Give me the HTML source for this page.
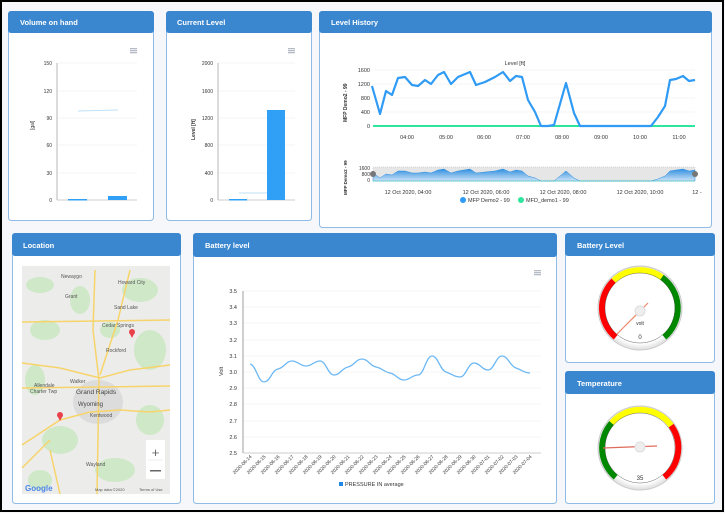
<!DOCTYPE html><html><head><meta charset="utf-8"><style>
body{margin:0;background:#fff;font-family:"Liberation Sans",sans-serif}
svg text{font-family:"Liberation Sans",sans-serif}
</style></head><body>
<svg width="725" height="513" viewBox="0 0 725 513" xmlns="http://www.w3.org/2000/svg">
<rect x="0" y="0" width="725" height="513" fill="#f5f7fb"/>
<rect x="1" y="1" width="722" height="510" fill="none" stroke="#000" stroke-width="2"/>
<defs><linearGradient id="nav" x1="0" y1="0" x2="0" y2="1"><stop offset="0" stop-color="#2f8fe0"/><stop offset="1" stop-color="#cfe4f7"/></linearGradient>
<radialGradient id="face" cx="0.5" cy="0.5" r="0.5"><stop offset="0.85" stop-color="#fff"/><stop offset="1" stop-color="#ddd"/></radialGradient></defs>
<g stroke="#8fbbe6" stroke-width="1" fill="#fff">
<rect x="8.5" y="11.5" width="145" height="209" rx="3"/>
<rect x="166.5" y="11.5" width="145" height="209" rx="3"/>
<rect x="319.5" y="11.5" width="392" height="216" rx="3"/>
<rect x="12.5" y="233.5" width="168" height="270" rx="3"/>
<rect x="193.5" y="233.5" width="363" height="270" rx="3"/>
<rect x="565.5" y="233.5" width="149" height="129" rx="3"/>
<rect x="565.5" y="371.5" width="149" height="132" rx="3"/>
</g>
<g fill="#3a87d0">
<rect x="8" y="11" width="146" height="22" rx="3"/>
<rect x="166" y="11" width="146" height="22" rx="3"/>
<rect x="319" y="11" width="393" height="22" rx="3"/>
<rect x="12" y="233" width="169" height="23" rx="3"/>
<rect x="193" y="233" width="364" height="24" rx="3"/>
<rect x="565" y="233" width="150" height="23" rx="3"/>
<rect x="565" y="371" width="150" height="23" rx="3"/>
</g>
<g fill="#fff" font-size="7.5" font-weight="bold">
<text x="20" y="25">Volume on hand</text>
<text x="177" y="25">Current Level</text>
<text x="331" y="25">Level History</text>
<text x="23" y="248">Location</text>
<text x="205" y="248">Battery level</text>
<text x="577" y="248">Battery Level</text>
<text x="577" y="386">Temperature</text>
</g>
<!-- menu icons -->
<g fill="#b5bcc5"><rect x="130" y="48" width="7" height="1.3"/><rect x="130" y="50" width="7" height="1.3"/><rect x="130" y="52" width="7" height="1.3"/>
<rect x="288" y="48" width="7" height="1.3"/><rect x="288" y="50" width="7" height="1.3"/><rect x="288" y="52" width="7" height="1.3"/>
<rect x="534" y="270" width="7" height="1.3"/><rect x="534" y="272" width="7" height="1.3"/><rect x="534" y="274" width="7" height="1.3"/></g>
<!-- Volume chart -->
<g stroke="#eee" stroke-width="0.6"><line x1="57" y1="63" x2="137" y2="63"/><line x1="57" y1="91" x2="137" y2="91"/><line x1="57" y1="118" x2="137" y2="118"/><line x1="57" y1="145" x2="137" y2="145"/><line x1="57" y1="173" x2="137" y2="173"/></g>
<line x1="57" y1="63" x2="57" y2="200" stroke="#999" stroke-width="0.7"/><line x1="57" y1="200" x2="137" y2="200" stroke="#ccc" stroke-width="1"/>
<g font-size="5" fill="#333" text-anchor="end"><text x="52" y="65">150</text><text x="52" y="93">120</text><text x="52" y="120">90</text><text x="52" y="147">60</text><text x="52" y="175">30</text><text x="52" y="202">0</text></g>
<text font-size="5" fill="#333" transform="translate(34,130) rotate(-90)">[gal]</text>
<line x1="78" y1="111" x2="118" y2="110" stroke="#bfe0f7" stroke-width="1"/>
<rect x="68" y="199" width="19" height="1.5" fill="#2fa0f5"/><rect x="108" y="196" width="19" height="4" fill="#2fa0f5"/>
<!-- Current level -->
<g stroke="#eee" stroke-width="0.6"><line x1="218" y1="63" x2="295" y2="63"/><line x1="218" y1="91" x2="295" y2="91"/><line x1="218" y1="118" x2="295" y2="118"/><line x1="218" y1="145" x2="295" y2="145"/><line x1="218" y1="173" x2="295" y2="173"/></g>
<line x1="218" y1="63" x2="218" y2="200" stroke="#999" stroke-width="0.7"/><line x1="218" y1="200" x2="295" y2="200" stroke="#ccc" stroke-width="1"/>
<g font-size="5" fill="#333" text-anchor="end"><text x="213" y="65">2000</text><text x="213" y="93">1600</text><text x="213" y="120">1200</text><text x="213" y="147">800</text><text x="213" y="175">400</text><text x="213" y="202">0</text></g>
<text font-size="5" fill="#333" font-weight="bold" transform="translate(195,140) rotate(-90)">Level [ft]</text>
<line x1="239" y1="193" x2="276" y2="193" stroke="#bfe0f7" stroke-width="1"/>
<rect x="229" y="199" width="18" height="1.5" fill="#2fa0f5"/><rect x="267" y="110" width="18" height="90" fill="#2fa0f5"/>
<!-- Level history -->
<g stroke="#eee" stroke-width="0.6"><line x1="373" y1="70" x2="695" y2="70"/><line x1="373" y1="84" x2="695" y2="84"/><line x1="373" y1="98" x2="695" y2="98"/><line x1="373" y1="112" x2="695" y2="112"/></g>
<text x="515" y="65" font-size="5.5" fill="#333" text-anchor="middle">Level [ft]</text>
<g font-size="5.5" fill="#333" text-anchor="end"><text x="370" y="72">1600</text><text x="370" y="86">1200</text><text x="370" y="100">800</text><text x="370" y="114">400</text><text x="370" y="128">0</text></g>
<text font-size="5" fill="#333" font-weight="bold" transform="translate(347,122) rotate(-90)">MFP Demo2 - 99</text>
<g font-size="5.5" fill="#333" text-anchor="middle"><text x="407" y="139">04:00</text><text x="446" y="139">05:00</text><text x="484" y="139">06:00</text><text x="523" y="139">07:00</text><text x="562" y="139">08:00</text><text x="601" y="139">09:00</text><text x="640" y="139">10:00</text><text x="679" y="139">11:00</text></g>
<line x1="373" y1="126" x2="695" y2="126" stroke="#2ee59d" stroke-width="2"/>
<polyline fill="none" stroke="#2f9bf5" stroke-width="2.2" stroke-linejoin="round" points="372,86 380,114 386,91 392,95 398,78 405,77 412,85 418,86 425,80 431,84 438,75 444,72 451,84 458,77 470,72 476,85 485,82 495,77 503,72 510,81 516,76 522,77 528,100 535,112 541,126 548,126 554,125 566,83 574,113 580,126 651,126 658,117 665,106 670,80 676,79 683,76 689,81 695,80"/>
<!-- navigator -->
<rect x="373" y="167" width="322" height="14" fill="#e6e6e6" stroke="#bbb" stroke-width="0.5" stroke-dasharray="1,1"/>
<polygon fill="url(#nav)" stroke="#2f8fe0" stroke-width="0.5" points="373,173 380,178 386,174 392,175 398,171 405,171 412,173 418,173 425,172 431,173 438,170 444,169 451,173 458,171 470,169 476,173 485,172 495,171 503,169 510,172 516,170 522,171 528,176 535,178 541,181 554,181 566,171 574,178 580,181 651,181 658,179 665,176 670,171 676,170 683,169 689,171 695,170 695,181 373,181"/>
<line x1="373" y1="181" x2="695" y2="181" stroke="#2ee59d" stroke-width="0.8" stroke-dasharray="1,1"/>
<circle cx="373" cy="174" r="3" fill="#777"/><circle cx="695" cy="174" r="3" fill="#777"/>
<g font-size="5" fill="#333" text-anchor="end"><text x="370" y="170">1600</text><text x="370" y="176">800</text><text x="370" y="182">0</text></g>
<text font-size="4.5" fill="#333" font-weight="bold" transform="translate(347,195) rotate(-90)">MFP Demo2 - 99</text>
<g font-size="5.5" fill="#333" text-anchor="middle"><text x="408" y="194">12 Oct 2020, 04:00</text><text x="486" y="194">12 Oct 2020, 06:00</text><text x="563" y="194">12 Oct 2020, 08:00</text><text x="640" y="194">12 Oct 2020, 10:00</text><text x="697" y="194">12 -</text></g>
<circle cx="463" cy="200" r="3" fill="#2f9bf5"/><text x="468" y="202" font-size="5.5" fill="#333">MFP Demo2 - 99</text>
<circle cx="521" cy="200" r="3" fill="#2ee59d"/><text x="526" y="202" font-size="5.5" fill="#333">MFD_demo1 - 99</text>
<!-- Map -->
<rect x="22" y="266" width="148" height="228" fill="#ececea"/>
<g fill="#cfe8c8"><ellipse cx="40" cy="285" rx="14" ry="8"/><ellipse cx="80" cy="300" rx="10" ry="14"/><ellipse cx="140" cy="290" rx="18" ry="12"/><ellipse cx="45" cy="330" rx="15" ry="10"/><ellipse cx="150" cy="350" rx="16" ry="20"/><ellipse cx="110" cy="330" rx="10" ry="8"/><ellipse cx="35" cy="380" rx="10" ry="15"/><ellipse cx="150" cy="420" rx="14" ry="15"/><ellipse cx="60" cy="440" rx="18" ry="14"/><ellipse cx="115" cy="470" rx="20" ry="12"/><ellipse cx="40" cy="480" rx="12" ry="10"/></g>
<ellipse cx="98" cy="402" rx="25" ry="22" fill="#dcdcdc"/>
<g fill="none" stroke="#f7d46b" stroke-width="1.5"><path d="M95,270 L93,330 L99,380 L97,494"/><path d="M22,322 L170,320"/><path d="M22,363 L60,368 L100,378 L130,370 L170,365"/><path d="M22,388 L170,386"/><path d="M22,445 L60,420 L90,412 L120,410 L150,412 L170,410"/><path d="M130,270 L118,320 L100,375"/><path d="M22,468 L50,440"/><path d="M50,450 L60,494"/></g>
<g font-size="5" fill="#555"><text x="61" y="278">Newaygo</text><text x="118" y="284">Howard City</text><text x="65" y="298">Grant</text><text x="114" y="309">Sand Lake</text><text x="102" y="327">Cedar Springs</text><text x="106" y="352">Rockford</text><text x="70" y="383">Walker</text><text x="34" y="387">Allendale</text><text x="30" y="393">Charter Twp</text><text x="76" y="394" font-size="6.5" fill="#444">Grand Rapids</text><text x="78" y="406" font-size="6" fill="#444">Wyoming</text><text x="90" y="417">Kentwood</text><text x="86" y="466">Wayland</text><text x="95" y="491" font-size="4">Map data ©2020</text><text x="139" y="491" font-size="4">Terms of Use</text></g>
<text x="25" y="491" font-size="8" font-weight="bold" fill="#4a85e8">Google</text>
<g fill="#e8414a"><circle cx="132" cy="332" r="3"/><polygon points="129.5,333 134.5,333 132,338"/><circle cx="60" cy="415" r="3"/><polygon points="57.5,416 62.5,416 60,421"/></g>
<rect x="146" y="440" width="19" height="39" fill="#fff"/><text x="155.5" y="457" font-size="13" text-anchor="middle" fill="#666">+</text><rect x="150" y="470" width="11" height="1.5" fill="#666"/><line x1="148" y1="460" x2="163" y2="460" stroke="#ddd" stroke-width="0.5"/>
<!-- Battery chart -->
<g stroke="#eee" stroke-width="0.6"><line x1="243" y1="291" x2="541" y2="291"/><line x1="243" y1="307" x2="541" y2="307"/><line x1="243" y1="323" x2="541" y2="323"/><line x1="243" y1="340" x2="541" y2="340"/><line x1="243" y1="356" x2="541" y2="356"/><line x1="243" y1="372" x2="541" y2="372"/><line x1="243" y1="388" x2="541" y2="388"/><line x1="243" y1="404" x2="541" y2="404"/><line x1="243" y1="421" x2="541" y2="421"/><line x1="243" y1="437" x2="541" y2="437"/></g>
<line x1="243" y1="291" x2="243" y2="453" stroke="#888" stroke-width="0.8"/><line x1="243" y1="453" x2="541" y2="453" stroke="#ccc" stroke-width="1"/>
<g font-size="5.5" fill="#333" text-anchor="end"><text x="237" y="293">3.5</text><text x="237" y="309">3.4</text><text x="237" y="325">3.3</text><text x="237" y="342">3.2</text><text x="237" y="358">3.1</text><text x="237" y="374">3.0</text><text x="237" y="390">2.9</text><text x="237" y="406">2.8</text><text x="237" y="423">2.7</text><text x="237" y="439">2.6</text><text x="237" y="455">2.5</text></g>
<text font-size="5.5" fill="#333" transform="translate(223,376) rotate(-90)">Volt</text>
<path fill="none" stroke="#6bb8f5" stroke-width="1.3" d="M250,364 C256,365 258,382 264,382 C270,382 272,370 278,369 C284,368 286,361 292,361 C298,361 300,366 306,366 C312,366 314,361 320,361 C326,361 328,375 334,375 C340,375 342,368 348,367 C354,366 356,359 362,359 C368,359 370,366 376,367 C382,368 384,372 390,373 C396,374 398,380 404,380 C410,380 412,375 418,375 C424,375 426,356 432,356 C438,356 440,370 446,372 C452,374 454,377 460,377 C466,377 468,363 474,363 C480,363 482,370 488,370 C494,370 496,356 502,356 C508,356 510,366 516,368 C522,370 524,373 530,373"/>
<g font-size="4.8" fill="#333" text-anchor="end">
<text transform="translate(252,457) rotate(-45)">2020-06-14</text><text transform="translate(266,457) rotate(-45)">2020-06-15</text><text transform="translate(280,457) rotate(-45)">2020-06-16</text><text transform="translate(294,457) rotate(-45)">2020-06-17</text><text transform="translate(308,457) rotate(-45)">2020-06-18</text><text transform="translate(322,457) rotate(-45)">2020-06-19</text><text transform="translate(336,457) rotate(-45)">2020-06-20</text><text transform="translate(350,457) rotate(-45)">2020-06-21</text><text transform="translate(364,457) rotate(-45)">2020-06-22</text><text transform="translate(378,457) rotate(-45)">2020-06-23</text><text transform="translate(392,457) rotate(-45)">2020-06-24</text><text transform="translate(406,457) rotate(-45)">2020-06-25</text><text transform="translate(420,457) rotate(-45)">2020-06-26</text><text transform="translate(434,457) rotate(-45)">2020-06-27</text><text transform="translate(448,457) rotate(-45)">2020-06-28</text><text transform="translate(462,457) rotate(-45)">2020-06-29</text><text transform="translate(476,457) rotate(-45)">2020-06-30</text><text transform="translate(490,457) rotate(-45)">2020-07-01</text><text transform="translate(504,457) rotate(-45)">2020-07-02</text><text transform="translate(518,457) rotate(-45)">2020-07-03</text><text transform="translate(532,457) rotate(-45)">2020-07-04</text></g>
<rect x="339" y="482" width="4" height="4" fill="#1e88e5"/><text x="345" y="486" font-size="5.5" fill="#333">PRESSURE IN average</text>
<!-- Battery gauge -->
<circle cx="640" cy="308" r="42" fill="url(#face)" stroke="#ccc" stroke-width="1"/>
<g fill="none" stroke-width="6">
<path d="M615.7,337.2 A38,38 0 0 1 613.6,280.6" stroke="#f00"/>
<path d="M613.6,280.6 A38,38 0 0 1 661.9,277.3" stroke="#ff0"/>
<path d="M661.9,277.3 A38,38 0 0 1 664.3,337.2" stroke="#080"/>
</g>
<circle cx="640" cy="308" r="35" fill="none" stroke="#444" stroke-width="0.4"/>
<line x1="617" y1="334" x2="648" y2="303" stroke="#e98a6a" stroke-width="1.2"/>
<circle cx="640" cy="311" r="5" fill="#eee" stroke="#ddd"/>
<text x="640" y="325" font-size="5" text-anchor="middle" fill="#333">volt</text>
<text x="640" y="339" font-size="6" text-anchor="middle" fill="#333">0</text>
<!-- Temperature gauge -->
<circle cx="640" cy="448" r="42" fill="url(#face)" stroke="#ccc" stroke-width="1"/>
<g fill="none" stroke-width="6">
<path d="M615.7,477.2 A38,38 0 0 1 611.6,423.0" stroke="#080"/>
<path d="M611.6,423.0 A38,38 0 0 1 671.2,425.6" stroke="#ff0"/>
<path d="M671.2,425.6 A38,38 0 0 1 664.3,477.2" stroke="#f00"/>
</g>
<circle cx="640" cy="448" r="35" fill="none" stroke="#444" stroke-width="0.4"/>
<line x1="603" y1="448" x2="657" y2="446" stroke="#e06a5a" stroke-width="1.2"/>
<circle cx="640" cy="447" r="5" fill="#eee" stroke="#ddd"/>
<text x="640" y="480" font-size="6" text-anchor="middle" fill="#333">35</text>
</svg>
</body></html>
